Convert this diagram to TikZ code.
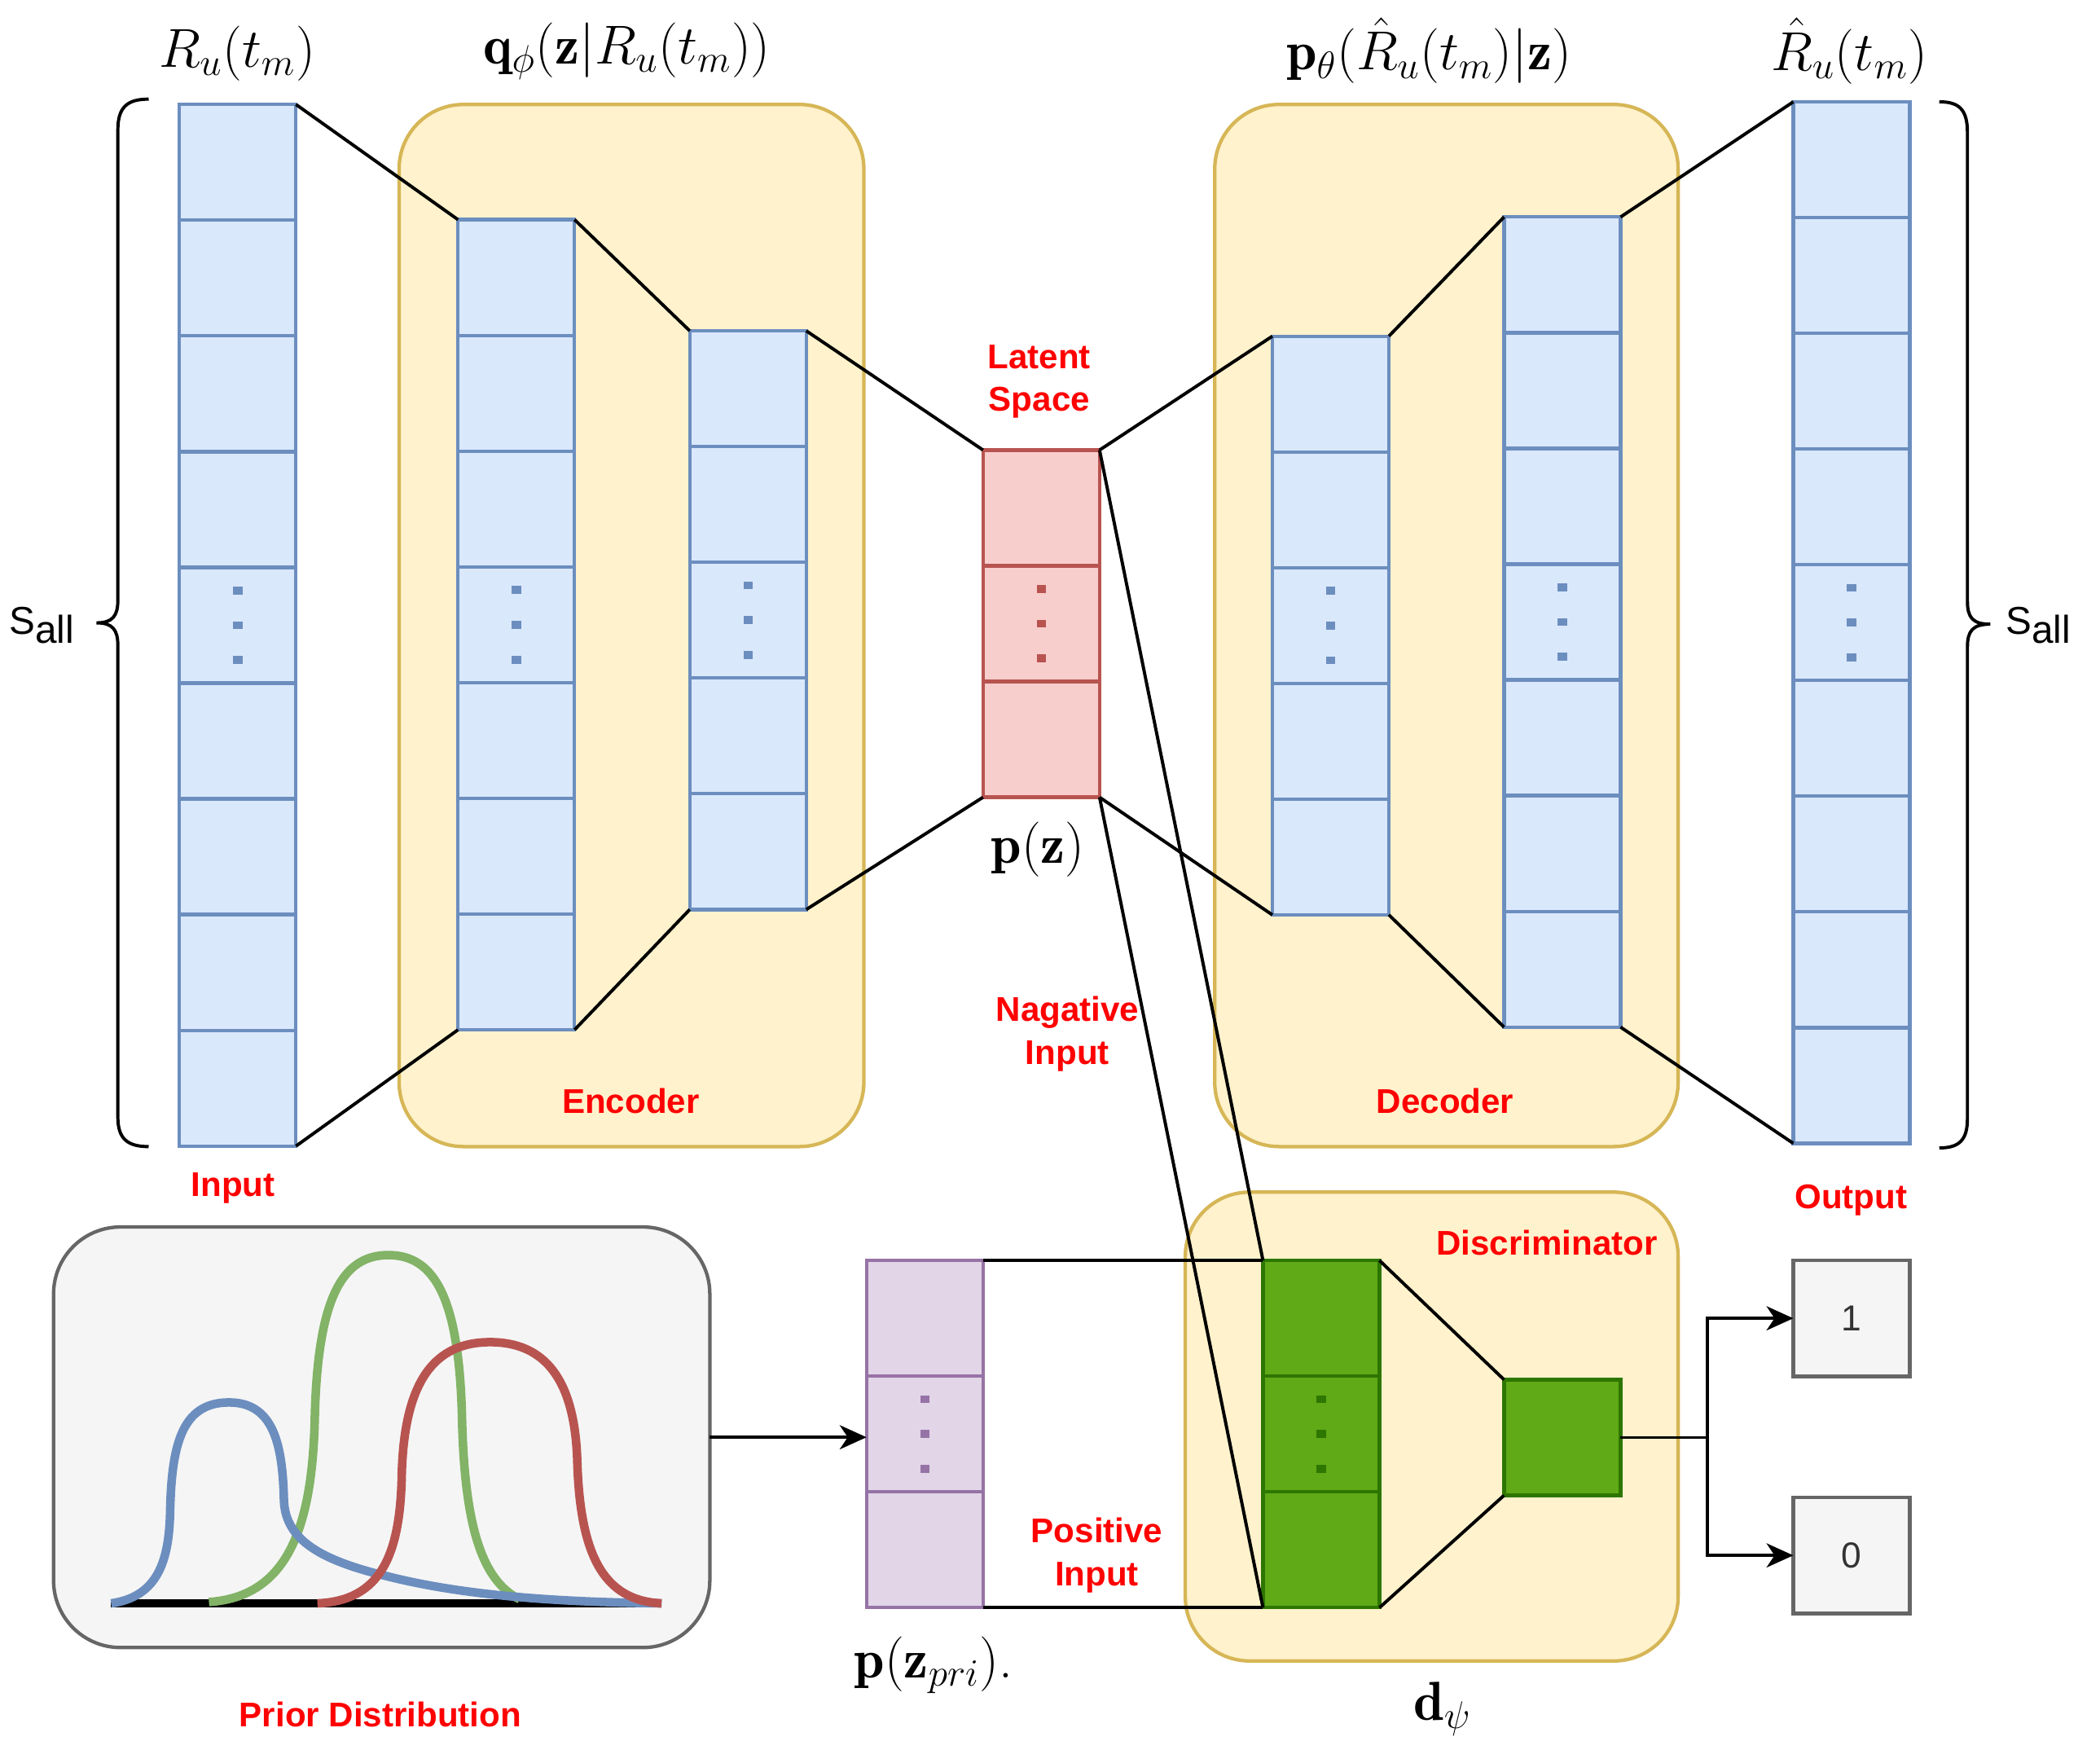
\RequirePackage{fix-cm}
\documentclass[tikz,border=0pt]{standalone}
\usepackage{amsmath,amssymb}
\usepackage{fontspec}
\newfontfamily\arialfont{Liberation Sans}
\usetikzlibrary{calc,arrows.meta}
\definecolor{bluefill}{HTML}{DAE8FC}\definecolor{bluedraw}{HTML}{6C8EBF}
\definecolor{redfill}{HTML}{F8CECC}\definecolor{reddraw}{HTML}{B85450}
\definecolor{purplefill}{HTML}{E1D5E7}\definecolor{purpledraw}{HTML}{9673A6}
\definecolor{greenfill}{HTML}{60A917}\definecolor{greendraw}{HTML}{2D7600}
\definecolor{greyfill}{HTML}{F5F5F5}\definecolor{greydraw}{HTML}{666666}
\definecolor{yellowfill}{HTML}{FFF2CC}\definecolor{yellowdraw}{HTML}{D6B656}
\definecolor{curvegreen}{HTML}{82B366}
\tikzset{cell/.style={line width=1.3pt,minimum width=43.5pt,minimum height=43.2pt,inner sep=0pt,outer sep=0pt,anchor=north west}}
\tikzset{group/.style={fill=yellowfill,draw=yellowdraw,line width=1.3pt,rounded corners=24pt,inner sep=0pt,outer sep=0pt,anchor=north west}}
\tikzset{conn/.style={black,line width=1.2pt}}
\tikzset{tip/.style={-{Stealth[length=10pt,width=9pt,inset=3pt]}}}
\tikzset{redlabel/.style={font=\arialfont\bfseries\fontsize{12.8}{16}\selectfont,text=red,align=center}}
\tikzset{mathlabel/.style={font=\fontsize{20.5}{23}\selectfont}}
\tikzset{setlabel/.style={font=\arialfont\fontsize{14.5}{16}\selectfont}}
\tikzset{curve/.style={line width=3.2pt}}
% name, x, y top, cells, dot cell, fill, draw
\newcommand{\layer}[7]{%
  \foreach \i in {1,...,#4}
    \node[cell,fill=#6,draw=#7] (#1-\i) at (#2,{#3+(\i-1)*86.4}) {};
  \foreach \k in {-1,0,1}
    \fill[#7] ($(#1-#5.center)+(0,\k*26)$) ++(-3.5,-3) rectangle ++(7,6);
}

\begin{document}
\begin{tikzpicture}[x=0.5pt,y=-0.5pt]
	\useasboundingbox (0,0) rectangle (1568,1316);

	\node[group,minimum width=173.5pt,minimum height=389pt] (encoder) at (298,78) {};
	\node[group,minimum width=173pt,minimum height=389pt] (decoder) at (907,78) {};
	\node[group,minimum width=184pt,minimum height=175pt] (discgroup) at (885,890) {};
	\node[group,fill=greyfill,draw=greydraw,rounded corners=25pt,minimum width=245pt,minimum height=157pt] (prior) at (40,916) {};

	\layer{inlayer}{134}{78}{9}{5}{bluefill}{bluedraw}
	\layer{enc1}{342}{164}{7}{4}{bluefill}{bluedraw}
	\layer{enc2}{515}{247}{5}{3}{bluefill}{bluedraw}
	\layer{latent}{734}{336}{3}{2}{redfill}{reddraw}
	\layer{dec1}{950}{251}{5}{3}{bluefill}{bluedraw}
	\layer{dec2}{1123}{162}{7}{4}{bluefill}{bluedraw}
	\layer{outlayer}{1339}{76}{9}{5}{bluefill}{bluedraw}
	\layer{pri}{647}{941}{3}{2}{purplefill}{purpledraw}
	\layer{disc1}{943}{941}{3}{2}{greenfill}{greendraw}
	\node[cell,fill=greenfill,draw=greendraw] (disc2) at (1123,1030) {};

	\node[cell,fill=greyfill,draw=greydraw,line width=1.4pt,text=black!80,font=\arialfont\fontsize{13.5}{15}\selectfont] (one) at (1339,941) {1};
	\node[cell,fill=greyfill,draw=greydraw,line width=1.4pt,text=black!80,font=\arialfont\fontsize{13.5}{15}\selectfont] (zero) at (1339,1118) {0};

	% encoder / decoder connectors
	\draw[conn] (inlayer-1.north east) -- (enc1-1.north west);
	\draw[conn] (inlayer-9.south east) -- (enc1-7.south west);
	\draw[conn] (enc1-1.north east) -- (enc2-1.north west);
	\draw[conn] (enc1-7.south east) -- (enc2-5.south west);
	\draw[conn] (enc2-1.north east) -- (latent-1.north west);
	\draw[conn] (enc2-5.south east) -- (latent-3.south west);
	\draw[conn] (latent-1.north east) -- (dec1-1.north west);
	\draw[conn] (latent-3.south east) -- (dec1-5.south west);
	\draw[conn] (dec1-1.north east) -- (dec2-1.north west);
	\draw[conn] (dec1-5.south east) -- (dec2-7.south west);
	\draw[conn] (dec2-1.north east) -- (outlayer-1.north west);
	\draw[conn] (dec2-7.south east) -- (outlayer-9.south west);

	% discriminator inputs
	\draw[conn] (latent-1.north east) -- (disc1-1.north west);
	\draw[conn] (latent-3.south east) -- (disc1-3.south west);
	\draw[conn] (pri-1.north east) -- (disc1-1.north west);
	\draw[conn] (pri-3.south east) -- (disc1-3.south west);
	\draw[conn] (disc1-1.north east) -- (disc2.north west);
	\draw[conn] (disc1-3.south east) -- (disc2.south west);
	\draw[conn,tip] (prior.east) -- (prior.east -| pri-2.west);

	\coordinate (split) at ($(disc2.east)+(65,0)$);
	\draw[conn] (disc2.east) -- (split);
	\draw[conn,tip] (split) |- (one.west);
	\draw[conn,tip] (split) |- (zero.west);

	% prior curves
	\draw[black,line width=3pt] (83,1197) -- (494,1197);
	\draw[curve,curvegreen] (156,1196) .. controls (215,1192) and (233,1140) .. (235,1060)
		.. controls (237,970) and (255,937) .. (290,937)
		.. controls (325,937) and (343,970) .. (345,1060)
		.. controls (347,1140) and (360,1180) .. (388,1194);
	\draw[curve,bluedraw] (83,1197) .. controls (118,1192) and (126,1165) .. (127,1130)
		.. controls (128,1080) and (135,1047) .. (171,1047)
		.. controls (205,1047) and (211,1080) .. (212,1120)
		.. controls (213,1150) and (240,1165) .. (290,1177)
		.. controls (350,1192) and (420,1196) .. (494,1197);
	\draw[curve,reddraw] (237,1197) .. controls (285,1195) and (299,1160) .. (300,1100)
		.. controls (302,1030) and (325,1002) .. (366,1002)
		.. controls (407,1002) and (429,1030) .. (431,1090)
		.. controls (433,1160) and (450,1195) .. (494,1197);

	% braces
	\draw[line width=1.2pt] (111,74) .. controls (95,74) and (88,80) .. (88,97) -- (88,448)
		.. controls (88,460) and (84,465) .. (72,465) .. controls (84,465) and (88,470) .. (88,482)
		-- (88,834) .. controls (88,850) and (95,856) .. (111,856);
	\draw[line width=1.2pt] (1448,76) .. controls (1463,76) and (1469,82) .. (1469,99) -- (1469,449)
		.. controls (1469,461) and (1473,466) .. (1486,466) .. controls (1473,466) and (1469,471) .. (1469,483)
		-- (1469,835) .. controls (1469,851) and (1463,857) .. (1448,857);

	% labels
	\node[setlabel] (setleft) at (31,467) {S\raisebox{-3.5pt}{all}};
	\node[setlabel] (setright) at (1522,467) {S\raisebox{-3.5pt}{all}};
	\node[mathlabel] (inmath) at (177,40) {$R_u(t_m)$};
	\node[mathlabel] (encmath) at (468,38) {$\mathbf{q}_\phi(\mathbf{z}|R_u(t_m))$};
	\node[mathlabel] (decmath) at (1067,38) {$\mathbf{p}_\theta(\hat{R}_u(t_m)|\mathbf{z})$};
	\node[mathlabel] (outmath) at (1381,38) {$\hat{R}_u(t_m)$};
	\node[mathlabel] (latmath) at (775,634) {$\mathbf{p}(\mathbf{z})$};
	\node[mathlabel] (primath) at (697,1243) {$\mathbf{p}(\mathbf{z}_{pri})$.};
	\node[mathlabel] (discmath) at (1077,1276) {$\mathbf{d}_\psi$};

	\node[redlabel] (latlabel) at (776,285) {Latent\\Space};
	\node[redlabel] (neglabel) at (797,772) {Nagative\\Input};
	\node[redlabel] (poslabel) at (819,1161) {Positive\\Input};
	\node[redlabel] (enclabel) at (471,822) {Encoder};
	\node[redlabel] (declabel) at (1079,822) {Decoder};
	\node[redlabel] (inlabel) at (174,887) {Input};
	\node[redlabel] (outlabel) at (1382,896) {Output};
	\node[redlabel] (disclabel) at (1155,928) {Discriminator};
	\node[redlabel] (priorlabel) at (284,1280) {Prior Distribution};
\end{tikzpicture}
\end{document}
